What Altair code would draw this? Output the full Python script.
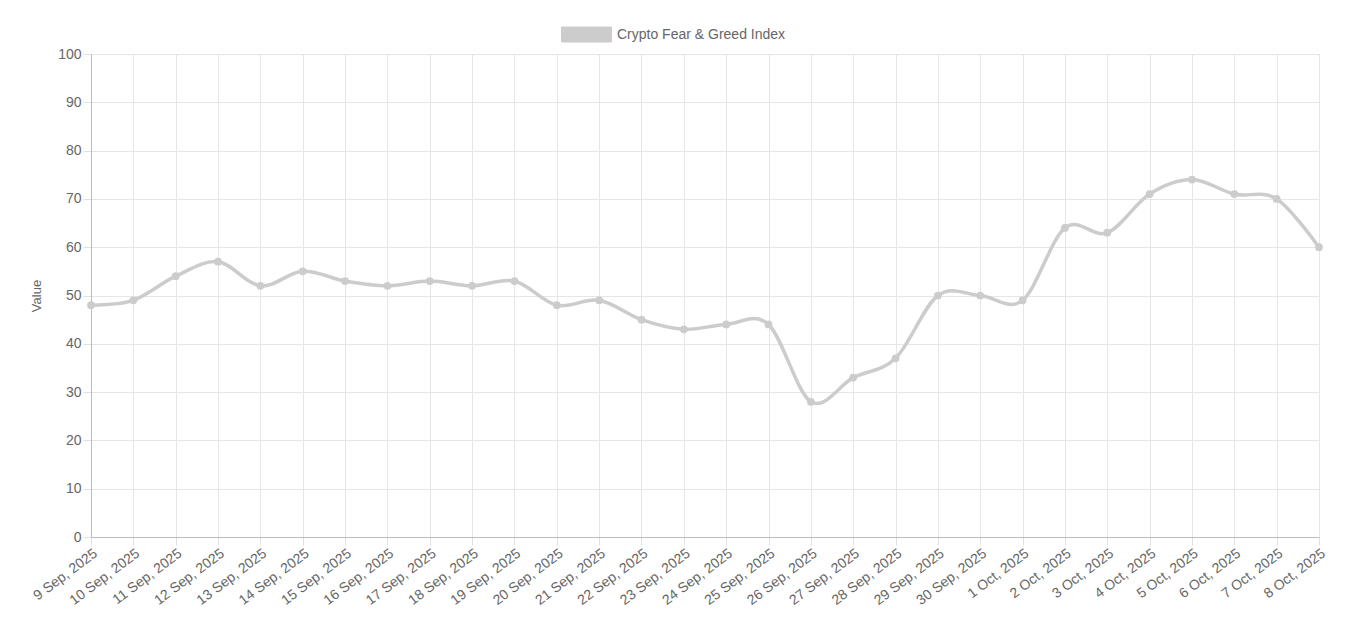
import altair as alt
import pandas as pd

dates = ["9 Sep, 2025", "10 Sep, 2025", "11 Sep, 2025", "12 Sep, 2025", "13 Sep, 2025",
         "14 Sep, 2025", "15 Sep, 2025", "16 Sep, 2025", "17 Sep, 2025", "18 Sep, 2025",
         "19 Sep, 2025", "20 Sep, 2025", "21 Sep, 2025", "22 Sep, 2025", "23 Sep, 2025",
         "24 Sep, 2025", "25 Sep, 2025", "26 Sep, 2025", "27 Sep, 2025", "28 Sep, 2025",
         "29 Sep, 2025", "30 Sep, 2025", "1 Oct, 2025", "2 Oct, 2025", "3 Oct, 2025",
         "4 Oct, 2025", "5 Oct, 2025", "6 Oct, 2025", "7 Oct, 2025", "8 Oct, 2025"]
values = [48, 49, 54, 57, 52, 55, 53, 52, 53, 52,
          53, 48, 49, 45, 43, 44, 44, 28, 33, 37,
          50, 50, 49, 64, 63, 71, 74, 71, 70, 60]
series_name = "Crypto Fear & Greed Index"

df = pd.DataFrame({"date": dates, "value": values, "series": [series_name] * len(dates)})

GREY = "#cccccc"
TXT = "#666666"
FONT = "Liberation Sans"

x = alt.X("date:N", sort=dates, title=None,
          scale=alt.Scale(type="point", padding=0),
          axis=alt.Axis(labelAngle=-37, labelAlign="right", labelBaseline="top",
                        labelFontSize=14, labelColor=TXT, labelFont=FONT,
                        tickSize=8, tickColor="#e0e0e0", domainColor="#bbbbbb",
                        gridColor="#e6e6e6", grid=True, labelPadding=1))
y = alt.Y("value:Q", title="Value",
          scale=alt.Scale(domain=[0, 100], nice=False),
          axis=alt.Axis(values=list(range(0, 101, 10)), labelFontSize=14, labelColor=TXT,
                        labelFont=FONT, tickSize=8, tickColor="#e0e0e0",
                        domainColor="#bbbbbb", gridColor="#e6e6e6",
                        titleFontSize=13, titleColor=TXT, titleFont=FONT,
                        titleFontWeight="normal", titlePadding=14))

color = alt.Color("series:N", scale=alt.Scale(range=[GREY]),
                  legend=alt.Legend(title=None, orient="none", legendX=470, legendY=-45,
                                    symbolType="M-1,-0.3L1,-0.3L1,0.3L-1,0.3Z",
                                    symbolSize=2500, symbolFillColor="#d4d4d4",
                                    symbolStrokeColor="#cccccc", symbolStrokeWidth=1,
                                    labelFontSize=14, labelColor=TXT, labelFont=FONT,
                                    labelLimit=400, padding=0, labelOffset=5))

line = alt.Chart(df).mark_line(interpolate="cardinal", strokeWidth=3.5).encode(
    x=x, y=y, color=color)
pts = alt.Chart(df).mark_point(filled=True, size=60, opacity=1).encode(
    x=x, y=y, color=color)

chart = (line + pts).properties(
    width=1228, height=483,
    autosize=alt.AutoSizeParams(type="none"),
    padding={"left": 83, "top": 46, "right": 19, "bottom": 76},
).configure_view(stroke=None).configure(background="white")

chart.save("out.html", embed_options={"renderer": "svg", "actions": False})
